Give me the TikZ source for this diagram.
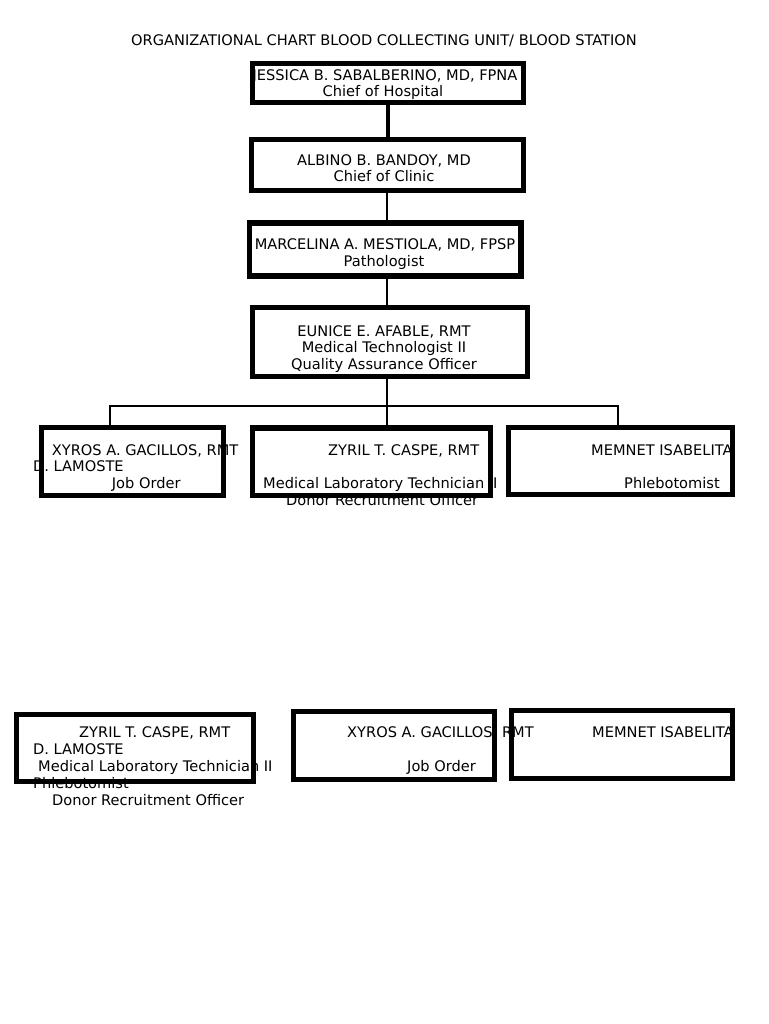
\documentclass[tikz,border=0pt]{standalone}
\usepackage{fontspec}
\setmainfont{DejaVu Sans}
\usetikzlibrary{calc}
\newcommand{\chartfont}{\fontsize{14.6}{17}\selectfont}
\tikzset{main base/.style={draw,line width=5.5pt}, }
\tikzset{chart box/.style={rectangle,main base,inner sep=0pt}, }
\tikzset{chart text/.style={anchor=base west,inner sep=0pt,font=\chartfont}, }
\tikzset{chart title/.style={anchor=base,inner sep=0pt,font=\chartfont}, }
\tikzset{linea/.style={draw,line width=2.8pt}}
\tikzset{linea2/.style={draw,line width=4.2pt}}

\begin{document}
\begin{tikzpicture}[x=1pt,y=-1pt]
  \useasboundingbox (0,0) rectangle (768,1024);
  \node[chart title] (0) at (384,45.5) {ORGANIZATIONAL CHART BLOOD COLLECTING UNIT/ BLOOD STATION};
  %
  \node[chart title] (1a) at (385,81) {JESSICA B. SABALBERINO, MD, FPNA};
  \node[chart title] (1b) at (383,97) {Chief of Hospital};
  \node[chart title] (2a) at (384,166) {ALBINO B. BANDOY, MD};
  \node[chart title] (2b) at (384,182) {Chief of Clinic};
  \node[chart title] (3a) at (385,249.5) {MARCELINA A. MESTIOLA, MD, FPSP};
  \node[chart title] (3b) at (384,266) {Pathologist};
  \node[chart title] (4a) at (384,336) {EUNICE E. AFABLE, RMT};
  \node[chart title] (4b) at (384,352.7) {Medical Technologist II};
  \node[chart title] (4c) at (384,369.3) {Quality Assurance Officer};
  %
  \node[chart text] (5a) at (51.7,455) {XYROS A. GACILLOS, RMT};
  \node[chart text] (5b) at (33,471.7) {D. LAMOSTE};
  \node[chart text] (5c) at (111.7,488) {Job Order};
  \node[chart text] (6a) at (328,455) {ZYRIL T. CASPE, RMT};
  \node[chart text] (6b) at (263,488) {Medical Laboratory Technician II};
  \node[chart text] (6c) at (286,505) {Donor Recruitment Officer};
  \node[chart text] (7a) at (591,455) {MEMNET ISABELITA};
  \node[chart text] (7b) at (624,488) {Phlebotomist};
  %
  \node[chart text] (8a) at (79,737) {ZYRIL T. CASPE, RMT};
  \node[chart text] (8b) at (33,754) {D. LAMOSTE};
  \node[chart text] (8c) at (38,771.5) {Medical Laboratory Technician II};
  \node[chart text] (8d) at (33,788) {Phlebotomist};
  \node[chart text] (8e) at (52,805) {Donor Recruitment Officer};
  \node[chart text] (9a) at (347,737) {XYROS A. GACILLOS, RMT};
  \node[chart text] (9b) at (407,771.5) {Job Order};
  \node[chart text] (10a) at (592,737) {MEMNET ISABELITA};
  %
  \node[chart box,minimum width=271pt,minimum height=39pt] (1) at (388,83) {};
  \node[chart box,minimum width=272pt,minimum height=51pt] (2) at (387.5,165) {};
  \node[chart box,minimum width=271.5pt,minimum height=53pt] (3) at (385.3,249.5) {};
  \node[chart box,minimum width=275pt,minimum height=69pt] (4) at (390,342) {};
  \node[chart box,minimum width=182pt,minimum height=68pt] (5) at (132.5,461.5) {};
  \node[chart box,minimum width=238pt,minimum height=67.5pt] (6) at (371.5,461.75) {};
  \node[chart box,minimum width=224pt,minimum height=67pt] (7) at (620.5,461) {};
  \node[chart box,minimum width=237pt,minimum height=67pt] (8) at (135,748) {};
  \node[chart box,minimum width=201pt,minimum height=68pt] (9) at (394,745.5) {};
  \node[chart box,minimum width=221pt,minimum height=68pt] (10) at (622,744.5) {};
  %
  \coordinate (b) at (387,406);
  \coordinate (bl) at (110,406);
  \coordinate (br) at (618,406);
  \path[linea2] (1.south) -- (1.south |- 2.north);
  \foreach \x/\y in {2/3,3/4}
    \path[linea] (\x.south -| b) -- (b |- \y.north);
  \path[linea] (4.south -| b) -- (b) -- (b |- 6.north);
  \path[linea] (bl |- 5.north) -- (bl) -- (br) -- (br |- 7.north);
\end{tikzpicture}
\end{document}
